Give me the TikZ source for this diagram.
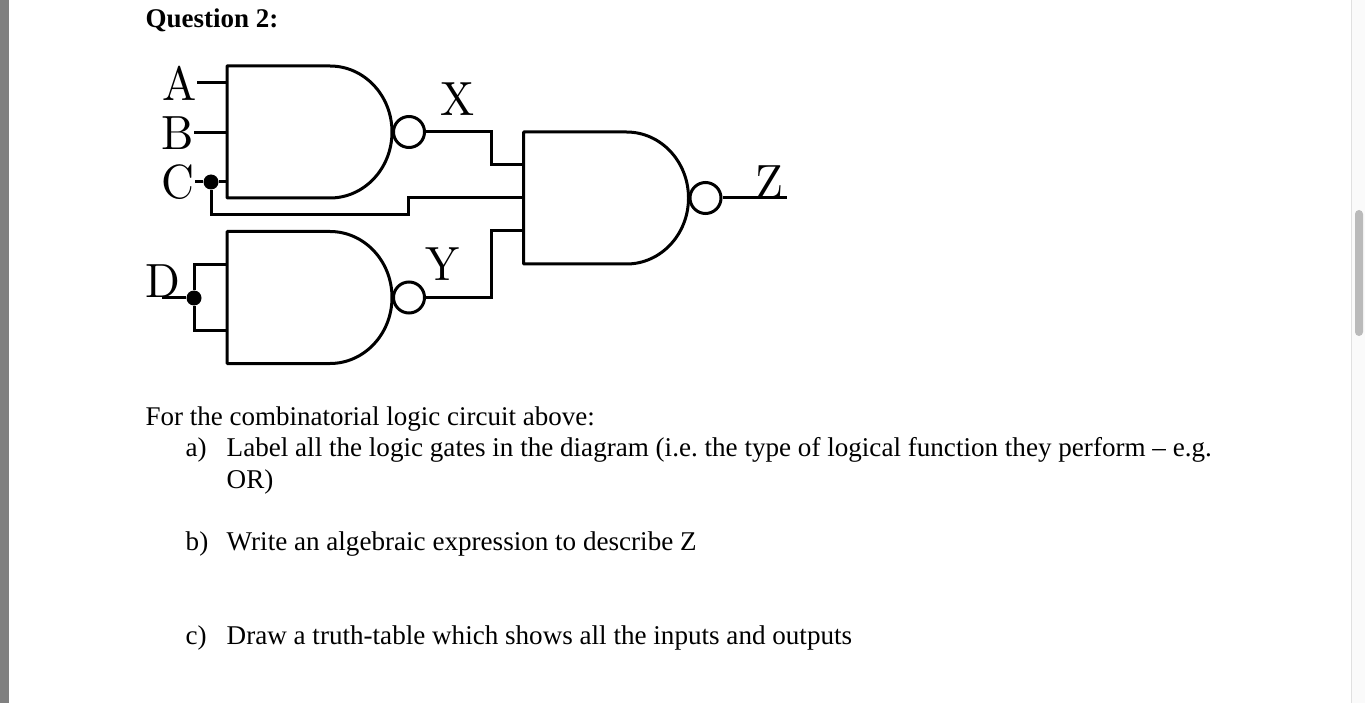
\documentclass[tikz,border=0pt]{standalone}
\usepackage{fontspec}
\newfontfamily\docfont{Liberation Serif}
\newfontfamily\labelfont{lmroman10-regular}[Extension=.otf, FakeStretch=0.95]
\usetikzlibrary{positioning}
\frenchspacing
\tikzset{
    gateBody/.style={rectangle, minimum width=165pt, minimum height=132pt, inner sep=0pt, outer sep=0pt},
    gateLine/.style={line width=3pt, line join=round},
    gateBubble/.style={circle, draw=black, line width=3pt, minimum size=31pt, inner sep=0pt},
    wire/.style={line width=3pt},
    wireDot/.style={circle, fill=black, minimum size=15pt, inner sep=0pt},
    circuitLabel/.style={inner sep=0pt, font=\labelfont\fontsize{48}{48}\selectfont},
    docText/.style={anchor=base west, inner sep=0pt, font=\docfont\fontsize{27.1}{27.1}\selectfont},
    docHead/.style={anchor=base west, inner sep=0pt, font=\docfont\bfseries\fontsize{27}{27}\selectfont}
}
\newcommand{\nandgate}[2]{
    \node (#1) [gateBody] at (#2) {};
    \draw [gateLine] (#1.north west) -- ([xshift=103pt]#1.north west) arc[start angle=90, end angle=-90, x radius=62pt, y radius=66pt] -- (#1.south west) -- cycle;
    \node (#1out) [gateBubble, right=0pt of #1] {};
    \coordinate (#1top) at ([yshift=33pt]#1.west);
    \coordinate (#1bot) at ([yshift=-33pt]#1.west);
}
\begin{document}
\begin{tikzpicture}[x=1pt, y=-1pt]
    \useasboundingbox (0,0) rectangle (1365,703);
    \fill [white] (0,0) rectangle (1365,703);
    \fill [black!50] (0,0) rectangle (9,703);
    \fill [black!2] (1351,0) rectangle (1365,703);
    \draw [black!12, line width=1pt] (1351,0) -- (1351,703);
    \fill [black!27, rounded corners=4pt] (1355,210) rectangle (1363,336);

    \node (head) [docHead] at (145.5,28) {Question 2:};

    \nandgate{gateX}{309.5,132}
    \nandgate{gateY}{309.5,297.5}
    \nandgate{gateZ}{606,198}

    \node (labelA) [circuitLabel, anchor=east] at (197,83) {A};
    \node (labelB) [circuitLabel, anchor=east] at (194,133) {B};
    \node (labelC) [circuitLabel, anchor=east] at (195,182) {C};
    \node (labelD) [circuitLabel] at (163,281) {D};
    \node (labelX) [circuitLabel] at (458,99) {X};
    \node (labelY) [circuitLabel] at (443,264) {Y};
    \node (labelZ) [circuitLabel] at (769,182) {Z};

    \node (dotC) [wireDot] at (211,182) {};
    \node (dotD) [wireDot] at (194,298) {};
    \coordinate (bendC) at (408,215);
    \coordinate (startD) at (162,298);
    \coordinate (endZ) at (787,198);

    \draw [wire] (labelA.east) -- (labelA.east -| gateX.west);
    \draw [wire] (labelB.east) -- (labelB.east -| gateX.west);
    \draw [wire] (labelC.east) -- (dotC) -- (dotC -| gateX.west);
    \draw [wire] (dotC) |- (bendC) |- (gateZ.west);
    \draw [wire] (startD) -- (dotD);
    \draw [wire] (gateYtop) -| (dotD);
    \draw [wire] (gateYbot) -| (dotD);
    \draw [wire] (gateXout.east) -- ++(65,0) |- (gateZtop);
    \draw [wire] (gateYout.east) -- ++(65,0) |- (gateZbot);
    \draw [wire] (gateZout.east) -- (endZ);

    \node (intro) [docText, font=\docfont\fontsize{27}{27}\selectfont] at (145.5,425) {For the combinatorial logic circuit above:};
    \node (itemA) [docText] at (185.5,456) {a)};
    \node (textA) [docText] at (226.5,456) {Label all the logic gates in the diagram (i.e. the type of logical function they perform – e.g.};
    \node (textOr) [docText] at (226.5,488) {OR)};
    \node (itemB) [docText] at (185.5,550) {b)};
    \node (textB) [docText] at (226.5,550) {Write an algebraic expression to describe Z};
    \node (itemC) [docText] at (185.5,644) {c)};
    \node (textC) [docText] at (226.5,644) {Draw a truth-table which shows all the inputs and outputs};
\end{tikzpicture}
\end{document}
